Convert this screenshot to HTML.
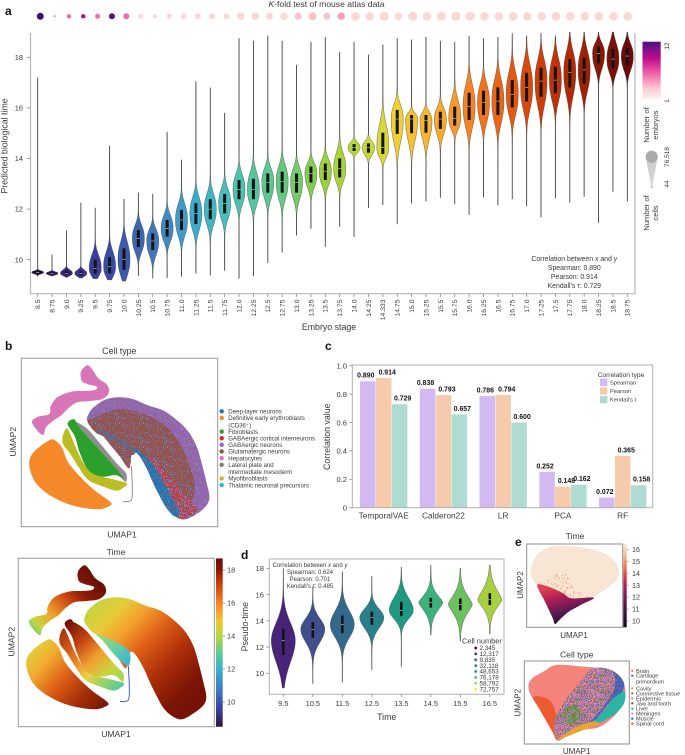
<!DOCTYPE html>
<html lang="en">
<head>
<meta charset="utf-8">
<title>K-fold test of mouse atlas data</title>
<style>
html,body{margin:0;padding:0;background:#fff;overflow:hidden}
svg{display:block}
text{font-family:"Liberation Sans",sans-serif;fill:#3a3a3a}
.pl{font-weight:700;font-size:12px;fill:#111}
.mid{text-anchor:middle}
</style>
</head>
<body>
<svg id="fig" xmlns="http://www.w3.org/2000/svg" width="685" height="755" viewBox="0 0 685 755">
<defs id="defs">
<linearGradient id="embryoGrad" x1="0" y1="0" x2="0" y2="1">
<stop offset="0" stop-color="#4a1486"/><stop offset=".12" stop-color="#7a0f88"/><stop offset=".3" stop-color="#c40c8c"/><stop offset=".55" stop-color="#f060a8"/><stop offset=".8" stop-color="#fcc6d0"/><stop offset="1" stop-color="#fff2f2"/>
</linearGradient>
<linearGradient id="rocketGrad" x1="0" y1="0" x2="0" y2="1">
<stop offset="0" stop-color="#f8e8d8"/><stop offset=".14" stop-color="#f6b896"/><stop offset=".3" stop-color="#ee6a48"/><stop offset=".44" stop-color="#cc2450"/><stop offset=".58" stop-color="#8e1a5c"/><stop offset=".72" stop-color="#55194f"/><stop offset=".86" stop-color="#2c1436"/><stop offset="1" stop-color="#120c1e"/>
</linearGradient>
<linearGradient id="sizeGrad" x1="0" y1="0" x2="0" y2="1">
<stop offset="0" stop-color="#c4c4c4"/><stop offset="1" stop-color="#dcdcdc"/>
</linearGradient>
</defs>

<!-- Panel letters -->
<text class="pl" x="5" y="15">a</text>
<text class="pl" x="5" y="350">b</text>
<text class="pl" x="325" y="350">c</text>
<text class="pl" x="241" y="559">d</text>
<text class="pl" x="515" y="546">e</text>

<!-- Panel a static -->
<text class="mid" x="326.5" y="7" font-size="8.6"><tspan font-style="italic">K</tspan>-fold test of mouse atlas data</text>
<g id="a-dots"></g>
<g id="a-violins"></g>
<path d="M30.5 33V293.7H635V33" fill="none" stroke="#b8b8b8" stroke-width="1.2"/>
<g id="a-axes"></g>
<text class="mid" transform="translate(7.5,146) rotate(-90)" font-size="8.8">Predicted biological time</text>
<text class="mid" x="329" y="330" font-size="8.8">Embryo stage</text>
<g font-size="6.9" class="mid">
<text class="mid" x="574.3" y="261">Correlation between <tspan font-style="italic">x</tspan> and <tspan font-style="italic">y</tspan></text>
<text class="mid" x="574.3" y="270">Spearman: 0.890</text>
<text class="mid" x="574.3" y="279">Pearson: 0.914</text>
<text class="mid" x="574.3" y="288">Kendall's τ: 0.729</text>
</g>
<rect x="642.5" y="41.7" width="18.2" height="57.3" fill="url(#embryoGrad)"/>
<text class="mid" transform="translate(669,46) rotate(-90)" font-size="6.5">12</text>
<text class="mid" transform="translate(669,101) rotate(-90)" font-size="6.5">1</text>
<text class="mid" transform="translate(649,125) rotate(-90)" font-size="7.6">Number of</text>
<text class="mid" transform="translate(658,125) rotate(-90)" font-size="7.6">embryos</text>
<path d="M645.7 156.7A6 6 0 0 1 657.7 156.7L652.3 186.5H651.1Z" fill="url(#sizeGrad)"/>
<circle cx="651.7" cy="156.7" r="6" fill="#a9a9a9"/>
<circle cx="651.7" cy="187" r="1" fill="#a9a9a9"/>
<text class="mid" transform="translate(669,157) rotate(-90)" font-size="6.5">76,518</text>
<text class="mid" transform="translate(669,184) rotate(-90)" font-size="6.5">44</text>
<text class="mid" transform="translate(649,213) rotate(-90)" font-size="7.6">Number of</text>
<text class="mid" transform="translate(658,213) rotate(-90)" font-size="7.6">cells</text>

<!-- Panel b static -->
<text class="mid" x="119.3" y="354" font-size="8.8">Cell type</text>
<g id="b-type"></g>
<rect x="21.3" y="358.3" width="196.4" height="168.4" fill="none" stroke="#999" stroke-width="1"/>
<text class="mid" transform="translate(16,441.7) rotate(-90)" font-size="8.6">UMAP2</text>
<text class="mid" x="122" y="537.5" font-size="8.6">UMAP1</text>
<g id="b-legend"></g>
<text class="mid" x="116" y="555" font-size="8.6">Time</text>
<g id="b-time"></g>
<rect x="18.3" y="558.3" width="196" height="168.4" fill="none" stroke="#999" stroke-width="1"/>
<text class="mid" transform="translate(14.5,641.7) rotate(-90)" font-size="8.6">UMAP2</text>
<text class="mid" x="116" y="737" font-size="8.6">UMAP1</text>
<g id="b-cbar"></g>

<!-- Panel c -->
<g id="c-bars"></g>
<rect x="352.3" y="365" width="300.4" height="142.7" fill="none" stroke="#b0b0b0" stroke-width="1"/>
<g id="c-axes"></g>
<text class="mid" transform="translate(330,436.7) rotate(-90)" font-size="8.8">Correlation value</text>
<text x="597.7" y="377" font-size="6.6">Correlation type</text>
<g id="c-legend"></g>

<!-- Panel d -->
<g id="d-violins"></g>
<rect x="269.3" y="559" width="234.7" height="135.3" fill="none" stroke="#b0b0b0" stroke-width="1"/>
<g id="d-axes"></g>
<text class="mid" transform="translate(248,626.7) rotate(-90)" font-size="8.8">Pseudo-time</text>
<text class="mid" x="386.7" y="720" font-size="8.8">Time</text>
<g font-size="6">
<text class="mid" x="310" y="567">Correlation between <tspan font-style="italic">x</tspan> and <tspan font-style="italic">y</tspan></text>
<text class="mid" x="310" y="574">Spearman: 0.624</text>
<text class="mid" x="310" y="581">Pearson: 0.701</text>
<text class="mid" x="310" y="588">Kendall's τ: 0.485</text>
</g>
<text x="462" y="643.5" font-size="7.4">Cell number</text>
<g id="d-legend"></g>

<!-- Panel e -->
<text class="mid" x="575" y="539" font-size="8.6">Time</text>
<g id="e-time"></g>
<rect x="526.7" y="544" width="96" height="83.3" fill="none" stroke="#8f8f8f" stroke-width="1"/>
<rect x="623.3" y="544" width="3.4" height="83.3" fill="url(#rocketGrad)"/>
<g id="e-cbar"></g>
<text class="mid" transform="translate(523,585) rotate(-90)" font-size="8">UMAP2</text>
<text class="mid" x="574" y="638" font-size="8">UMAP1</text>
<text class="mid" x="576.7" y="657.5" font-size="8.6">Cell type</text>
<g id="e-type"></g>
<rect x="524.3" y="661" width="105" height="83" fill="none" stroke="#8f8f8f" stroke-width="1"/>
<text class="mid" transform="translate(520.5,702.7) rotate(-90)" font-size="8">UMAP2</text>
<text class="mid" x="576.7" y="754" font-size="8">UMAP1</text>
<g id="e-legend"></g>
</svg>

<script>
/* ---------- Panel a data ---------- */
const stageLabels = ["8.5","8.75","9.0","9.25","9.5","9.75","10.0","10.25","10.5","10.75","11.0","11.25","11.5","11.75","12.0","12.25","12.5","12.75","13.0","13.25","13.5","13.75","14.0","14.25","14.333","14.75","15.0","15.25","15.5","15.75","16.0","16.25","16.5","16.75","17.0","17.25","17.5","17.75","18.0","18.25","18.5","18.75"];
const stageMedian = [9.5,9.46,9.46,9.46,9.66,9.72,10.0,10.84,10.74,11.24,11.57,11.83,12.0,12.23,12.78,12.78,13.06,13.08,13.06,13.41,13.5,13.6,14.43,14.43,14.44,15.56,15.56,15.5,15.56,15.59,16.05,16.22,16.27,16.54,16.81,17.06,17.1,17.41,17.5,18.16,17.93,18.05];
const stageQ1 = [9.46,9.42,9.4,9.38,9.45,9.46,9.6,10.5,10.38,10.91,11.17,11.41,11.6,11.83,12.39,12.39,12.65,12.65,12.65,13.05,13.15,13.25,14.3,14.23,14.18,14.97,15.0,15.02,15.17,15.3,15.52,15.72,15.72,16.02,16.25,16.44,16.58,16.81,16.97,17.76,17.57,17.69];
const stageQ3 = [9.54,9.5,9.55,9.55,10.0,10.1,10.45,11.17,11.04,11.57,11.97,12.23,12.39,12.6,13.15,13.2,13.41,13.48,13.41,13.68,13.8,14.0,14.57,14.6,15.02,15.92,15.72,15.72,15.85,16.05,16.6,16.68,16.81,17.1,17.39,17.59,17.63,17.93,17.98,18.42,18.33,18.36];
const stageLow = [9.33,9.35,9.3,9.27,9.25,9.2,9.15,9.36,9.26,9.28,9.33,9.46,9.38,9.57,9.25,9.35,9.87,10.28,10.96,11.22,10.51,11.3,10.9,12.05,12.16,11.4,12.23,12.3,12.45,12.19,11.77,12.47,12.15,12.39,12.12,11.68,12.43,12.25,12.49,11.46,12.69,12.3];
const stageHigh = [17.2,10.2,11.15,12.25,12.05,14.5,12.4,12.65,12.6,15.05,13.95,17.05,16.8,15.8,18.75,18.65,18.85,18.65,17.7,18.6,18.8,18.2,18.6,18.1,18.5,18.75,18.7,18.8,18.65,18.6,18.85,18.75,18.8,18.95,18.85,18.95,18.85,19,19,19,19,19];
const embryoCounts = [12,3,4,8,4,11,4,1,1,1,1,1,1,1,1,1,1,1,2,2,2,3,1,1,1,1,1,1,1,1,1,1,1,1,1,1,1,1,1,1,1,1];
const cellCounts = [36700,800,9900,9900,14500,24300,24300,14500,9900,14500,20000,24300,24300,24300,42300,42300,36700,42300,36700,51500,36700,42300,61600,61600,72600,45300,72600,61600,72600,72600,72600,61600,61600,61600,61600,61600,61600,61600,61600,61600,61600,61600];
const stageYTicks = [10,12,14,16,18];

/* ---------- Panel b data ---------- */
const neuronOutline = [[262,240],[270,215],[290,195],[320,178],[360,172],[400,178],[440,195],[490,212],[530,240],[565,275],[590,320],[605,370],[620,430],[628,470],[620,495],[590,520],[555,538],[525,528],[500,505],[480,470],[460,430],[440,385],[420,350],[405,335],[395,345],[392,368],[385,385],[360,350],[335,320],[310,290],[290,280],[270,258]];
const neuronOuterBand = [[262,240],[270,215],[290,195],[320,178],[360,172],[400,178],[440,195],[490,212],[530,240],[565,275],[590,320],[605,370],[620,430],[628,470],[620,495],[590,520],[575,490],[585,440],[560,350],[510,270],[440,225],[360,207],[300,225]];
const neuronRedBand = [[450,350],[500,400],[540,450],[580,490],[592,518],[555,538],[525,528],[500,490],[470,420]];
const neuronBlueBand = [[400,325],[420,335],[455,370],[490,425],[520,480],[540,518],[525,530],[500,505],[480,470],[460,430],[440,385],[420,350],[405,335]];
const neuronBlueHaze = [[285,272],[345,283],[400,322],[408,335],[395,345],[370,320],[330,300]];
const hepatocyteOutline = [[243,95],[262,76],[278,90],[295,115],[322,135],[326,160],[305,178],[270,183],[232,187],[205,205],[185,225],[160,242],[138,262],[130,285],[112,272],[96,245],[115,230],[148,222],[152,200],[172,172],[215,155],[255,153],[285,150],[290,140],[262,132],[245,122]];
const erythroidOutline = [[150,300],[170,305],[187,325],[205,368],[245,415],[285,452],[332,487],[325,500],[290,508],[220,497],[160,472],[110,432],[88,378],[100,338]];
const myofibroblastOutline = [[188,290],[200,265],[214,290],[235,340],[262,385],[300,408],[340,418],[380,430],[372,442],[350,452],[310,440],[265,420],[235,380],[210,340],[190,314]];
const fibroblastOutline = [[203,252],[222,238],[238,262],[280,310],[330,365],[368,412],[345,405],[305,410],[265,390],[240,340],[225,290]];
const lateralPlateOutline = [[225,245],[260,265],[300,310],[350,370],[378,400],[378,425],[360,410],[330,368],[280,312],[240,265]];
const neckOutline = [[298,283],[340,298],[395,332],[398,372],[385,374],[350,342],[320,305]];
const progenitorTrail = [[394,378],[397,440],[394,480],[369,485]];
const legendLabelsB = [["Deep-layer neurons"],["Definitive early erythroblasts","(CD36⁺)"],["Fibroblasts"],["GABAergic cortical interneurons"],["GABAergic neurons"],["Glutamatergic neurons"],["Hepatocytes"],["Lateral plate and","intermediate mesoderm"],["Myofibroblasts"],["Thalamic neuronal precursors"]];
const timeCbarTicks = [10,12,14,16,18];

/* ---------- Panel c data ---------- */
const methods = ["TemporalVAE","Calderon22","LR","PCA","RF"];
const spearmanValues = [0.890,0.838,0.786,0.252,0.072];
const pearsonValues = [0.914,0.793,0.794,0.148,0.365];
const kendallValues = [0.729,0.657,0.600,0.162,0.158];
const correlationTypes = ["Spearman","Pearson","Kendall's τ"];
const corrTicks = [0,0.2,0.4,0.6,0.8,1.0];

/* ---------- Panel d data ---------- */
const timeLabels = ["9.5","10.5","11.5","12.5","13.5","14.5","15.5","16.5"];
const timeMedian = [12.5,13.35,13.7,14.25,14.8,15.4,15.25,15.6];
const timeQ1 = [11.4,12.7,13.05,13.7,14.35,15.0,14.8,15.2];
const timeQ3 = [13.4,13.9,14.4,14.7,15.45,15.75,15.7,16.1];
const timeLow = [8.86,9.2,9.3,10.25,10.5,12.9,12.45,13.0];
const timeHigh = [18.0,16.6,17.75,17.4,18.1,18.25,18.0,18.25];
const timeCellCounts = ["2,345","12,317","9,835","32,118","48,653","76,178","58,792","72,757"];
const pseudoTicks = [10,12,14,16,18];

/* ---------- Panel e data ---------- */
const eBlobTop = [[130,60],[170,48],[240,52],[300,65],[340,90],[356,120],[350,150],[300,190],[250,215],[210,240],[180,268],[165,282],[158,262],[130,205],[95,140],[92,120],[108,78]];
const eWedge = [[112,165],[150,172],[190,190],[215,205],[282,203],[240,226],[205,246],[178,270],[165,282],[158,264],[135,215]];
const eHaze = [[125,170],[150,140],[200,130],[225,180],[270,200],[215,206],[190,192],[150,174]];
const eBlobBottom = [[130,425],[170,405],[250,410],[330,420],[368,450],[375,500],[350,550],[300,590],[250,600],[200,620],[172,632],[155,602],[120,540],[88,485],[92,450]];
const eSpinal = [[100,500],[150,512],[172,570],[172,628],[155,600],[120,540]];
const eMixed = [[280,415],[335,422],[345,470],[320,515],[275,570],[220,595],[172,625],[165,570],[200,505],[245,450]];
const eBlue = [[330,420],[368,450],[368,482],[335,510],[290,565],[262,578],[300,520],[335,470]];
const eTeal = [[348,475],[374,485],[372,520],[345,552],[300,578],[272,582],[300,555],[335,510]];
const eGold = [[172,628],[220,596],[275,575],[295,582],[250,600],[200,620]];
const eGreen = [[190,545],[225,525],[245,560],[205,585]];
const legendLabelsE = ["Brain","Cartilage","primordium","Cavity","Connective tissue","Epidermis","Jaw and tooth","Liver","Meninges","Muscle","Spinal cord"];
const eCbarTicks = [10,11,12,13,14,15,16];

/* ---------- Helpers ---------- */
const NS = "http://www.w3.org/2000/svg";
function mk(tag, attrs, parent, text) {
  const n = document.createElementNS(NS, tag);
  for (const k in attrs) n.setAttribute(k, attrs[k]);
  if (text !== undefined) n.textContent = text;
  parent.appendChild(n);
  return n;
}
const $ = id => document.getElementById(id);

function hex2(c){return [parseInt(c.slice(1,3),16),parseInt(c.slice(3,5),16),parseInt(c.slice(5,7),16)];}
function ramp(stops,t){
  t=Math.max(0,Math.min(1,t));
  for(let i=1;i<stops.length;i++){
    if(t<=stops[i][0]){
      const a=stops[i-1],b=stops[i],f=(t-a[0])/(b[0]-a[0]),ca=hex2(a[1]),cb=hex2(b[1]);
      return "rgb("+ca.map((v,j)=>Math.round(v+(cb[j]-v)*f)).join(",")+")";
    }
  }
  return stops[stops.length-1][1];
}
const stageRamp=[[0,"#2a0a3a"],[.03,"#2f1664"],[.07,"#37308f"],[.12,"#3a4aa6"],[.17,"#3d66b2"],[.22,"#4288c0"],[.27,"#3aaed0"],[.32,"#47bfb8"],[.37,"#55c69c"],[.42,"#66c97c"],[.46,"#82cd54"],[.49,"#9fd13a"],[.54,"#b6d83a"],[.585,"#d8d83a"],[.61,"#efd02f"],[.65,"#f7b92c"],[.7,"#f8a12a"],[.73,"#f78425"],[.8,"#e85a10"],[.85,"#d03d0a"],[.9,"#b52a05"],[.95,"#8a1505"],[1,"#6e0a05"]];
const embryoRamp=[[0,"#fbd8d8"],[.14,"#fbb4c0"],[.3,"#f45aa4"],[.6,"#c40c8c"],[.85,"#6a1486"],[1,"#3f0f70"]];
const viridis=["#47237a","#3f4f8b","#33698c","#28808a","#1f9a82","#3cb27a","#6cc060","#a8cf3e"];
const viridisLegend=["#440154","#46327e","#365c8d","#277f8e","#1fa187","#4ac16d","#a0da39","#fde725"];

function violin(group,name,cx,hw,yf,lo,q1,m,q3,hi,fill,tailColor,power,boxW){
  const pxTop=yf(hi),pxBot=yf(lo),sUp=Math.max(.02,(q3-m)/.674),sDn=Math.max(.02,(m-q1)/.674);
  const right=[],left=[];
  for(let py=pxTop;py<=pxBot;py+=.4){
    const v=m+(yf(m)-py)/(yf(0)-yf(1));
    const z=Math.abs(v-m)/(v>m?sUp:sDn);
    const w=hw*Math.exp(-.5*Math.pow(z,power));
    right.push((cx+w).toFixed(2)+" "+py.toFixed(2));
    left.unshift((cx-w).toFixed(2)+" "+py.toFixed(2));
  }
  const tail=mk("line",{x1:cx,x2:cx,y1:pxTop,y2:pxBot,stroke:tailColor,"stroke-width":.9},group);
  
  
  const body=mk("path",{d:"M"+right.join("L")+"L"+left.join("L")+"Z",fill:fill,stroke:"#4a4a4a","stroke-width":.45},group);
  
  
  const box=mk("rect",{x:cx-boxW/2,width:boxW,y:yf(q3),height:Math.max(.8,yf(q1)-yf(q3)),fill:"#141414"},group);
  
  
  const med=mk("rect",{x:cx-boxW/2,width:boxW,y:yf(m)-.25,height:.5,fill:"#fff"},group);
  
  
}

function axisTick(group,name,x1,y1,x2,y2){
  const t=mk("line",{x1,y1,x2,y2,stroke:"#8a8a8a","stroke-width":.8},group);
  
  
}
function label(group,name,x,y,str,size,anchor,rot){
  const at={x,y,"font-size":size,"text-anchor":anchor||"middle"};
  if(rot) at.transform="rotate(-90 "+x+" "+y+")";
  const t=mk("text",at,group,str);
  
  
  return t;
}
function smooth(pts,fx,fy,closed){
  const p=pts.map(q=>[fx(q[0]),fy(q[1])]),n=p.length;
  const g=i=>closed?p[(i+n)%n]:p[Math.max(0,Math.min(n-1,i))];
  let d="M"+p[0][0].toFixed(2)+" "+p[0][1].toFixed(2);
  const end=closed?n:n-1;
  for(let i=0;i<end;i++){
    const a=g(i-1),b=g(i),c=g(i+1),e=g(i+2);
    d+="C"+(b[0]+(c[0]-a[0])/6).toFixed(2)+" "+(b[1]+(c[1]-a[1])/6).toFixed(2)+" "+(c[0]-(e[0]-b[0])/6).toFixed(2)+" "+(c[1]-(e[1]-b[1])/6).toFixed(2)+" "+c[0].toFixed(2)+" "+c[1].toFixed(2);
  }
  return d+(closed?"Z":"");
}
function blob(group,name,pts,fx,fy,fill,extra){
  const b=mk("path",Object.assign({d:smooth(pts,fx,fy,true),fill:fill},extra||{}),group);
  
  
  return b;
}

/* speckle textures: repeating tiles only, not data */
function speckle(id,mix,seed){
  const defs=$("defs");
  const S=24;
  const pat=mk("pattern",{id:id,width:S,height:S,patternUnits:"userSpaceOnUse"},defs);
  for(let y=0;y<S;y++)for(let x=0;x<S;x++){
    const s=Math.sin((x+1)*12.9898+(y+1)*78.233+seed)*43758.5453;
    const h=(s-Math.floor(s))*100;
    let acc=0,col=mix[0][0];
    for(const m of mix){acc+=m[1];if(h<acc){col=m[0];break;}}
    mk("rect",{x,y,width:1.02,height:1.02,fill:col},pat);
  }
}
speckle("spBrown",[["#8c564b",58],["#8a6090",22],["#b04a48",12],["#80606a",6],["#5aa8b0",2]],1);
speckle("spPurple",[["#9467bd",66],["#8c6a90",24],["#6aa0b8",5],["#a85a70",5]],2);
speckle("spRed",[["#cc3a38",46],["#8c564b",22],["#9467bd",26],["#5aa8b0",6]],3);
speckle("spBlue",[["#1f77b4",80],["#5a7ab0",12],["#c04040",8]],4);
speckle("spBlueHaze",[["#8c564b",55],["#3f78b4",35],["#8a6090",10]],5);
speckle("spEMix",[["#c47ec0",30],["#a874a8",20],["#966e50",18],["#e88c88",16],["#5a9a5a",6],["#6070b8",10]],6);
speckle("spEBlue",[["#3f62bc",80],["#8a60a8",14],["#806a50",6]],7);
speckle("spEGreen",[["#5aa852",42],["#8f6a3e",34],["#b47ab8",24]],8);
speckle("spEHaze",[["#f8e5d3",82],["#f6c0a4",14],["#f09a80",4]],9);

function lin(id,u1,v1,u2,v2,fx,fy,stops){
  const g=mk("linearGradient",{id,gradientUnits:"userSpaceOnUse",x1:fx(u1),y1:fy(v1),x2:fx(u2),y2:fy(v2)},$("defs"));
  stops.forEach(s=>mk("stop",{offset:s[0],"stop-color":s[1]},g));
}

/* ---------- Panel a ---------- */
const xA = i => 37.7 + i*(627.3-37.7)/(stageLabels.length-1);
const yA = v => 259.7 - (v-10)*25.3;
const xDot = i => 40.3 + i*(627.7-40.3)/(stageLabels.length-1);
embryoCounts.forEach((c,i)=>{
  const d=mk("circle",{cx:xDot(i),cy:16.3,r:.8+Math.sqrt(cellCounts[i]/76518)*3.9,fill:ramp(embryoRamp,(c-1)/11)},$("a-dots"));
  
  
});
stageLabels.forEach((s,i)=>{
  violin($("a-violins"),"violin-"+s,xA(i),6,yA,stageLow[i],stageQ1[i],stageMedian[i],stageQ3[i],stageHigh[i],ramp(stageRamp,i/(stageLabels.length-1)),"#555",2.5,3);
  axisTick($("a-axes"),"x-a-"+s,xA(i),293.7,xA(i),297);
  label($("a-axes"),"x-label-"+s,xA(i)+2.4,299.5,s,6.8,"end",true);
});
stageYTicks.forEach(v=>{
  axisTick($("a-axes"),"y-a-"+v,26.7,yA(v),30.5,yA(v));
  label($("a-axes"),"y-label-a-"+v,23,yA(v)+2.6,String(v),7.4,"end");
});

/* ---------- Panel b ---------- */
const xB1 = u => 21.3 + (u-64)/3, yB1 = v => 358.3 + (v-55)/3;
const xB2 = u => 18.3 + (u-64)/3, yB2 = v => 558.3 + (v-55)/3;
const gT=$("b-type");
blob(gT,"hepatocytes-region",hepatocyteOutline,xB1,yB1,"#d874b8");
blob(gT,"erythroblasts-region",erythroidOutline,xB1,yB1,"#f5892a");
blob(gT,"myofibroblasts-region",myofibroblastOutline,xB1,yB1,"#bcbd22");
blob(gT,"lateral-plate-region",lateralPlateOutline,xB1,yB1,"#8f8f8f");
blob(gT,"fibroblasts-region",fibroblastOutline,xB1,yB1,"#2ca02c");
blob(gT,"neurons-region",neuronOutline,xB1,yB1,"url(#spBrown)");
blob(gT,"gabaergic-band",neuronOuterBand,xB1,yB1,"url(#spPurple)");
blob(gT,"interneuron-band",neuronRedBand,xB1,yB1,"url(#spRed)");
blob(gT,"deep-layer-haze",neuronBlueHaze,xB1,yB1,"url(#spBlueHaze)");
blob(gT,"deep-layer-band",neuronBlueBand,xB1,yB1,"url(#spBlue)");
const trailA=mk("path",{d:smooth(progenitorTrail,xB1,yB1,false),fill:"none",stroke:"#8f8f8f","stroke-width":1},gT);



const legendColorsB=["#1f77b4","#f5892a","#2ca02c","#d62728","#9467bd","#8c564b","#d874b8","#7f7f7f","#bcbd22","#17becf"];
let ly=411.3;
legendLabelsB.forEach((lines,i)=>{
  const dot=mk("circle",{cx:221.7,cy:ly,r:2.2,fill:legendColorsB[i]},$("b-legend"));
  
  
  lines.forEach((ln,k)=>{
    label($("b-legend"),"legend-label-b-"+i+"-"+k,228.3,ly+2.2+k*7.1,ln,6.1,"start");
  });
  ly+=lines.length>1?13.6:6.65;
});

lin("tNeuron",270,210,570,500,xB2,yB2,[[0,"#c2d43e"],[.16,"#e6cc38"],[.3,"#f4a02c"],[.48,"#dd5c16"],[.7,"#a82c08"],[.9,"#7e1606"],[1,"#761205"]]);
lin("tHep",290,110,100,285,xB2,yB2,[[0,"#6b1005"],[.22,"#8c1a06"],[.4,"#cc4410"],[.65,"#f0a22e"],[.85,"#c6d63c"],[1,"#4fc8a0"]]);
lin("tEry",110,310,320,500,xB2,yB2,[[0,"#dcd23a"],[.22,"#f2ae30"],[.5,"#dc5a14"],[.78,"#a02c08"],[1,"#7a1808"]]);
lin("tFib",210,250,360,415,xB2,yB2,[[0,"#6f1005"],[.3,"#c24210"],[.6,"#f0a030"],[.85,"#cad43e"],[1,"#a6d84a"]]);
lin("tMyo",195,270,375,440,xB2,yB2,[[0,"#a82e08"],[.35,"#e87820"],[.6,"#eed040"],[.82,"#90d46a"],[1,"#50c8a0"]]);
lin("tNeck",300,285,396,372,xB2,yB2,[[0,"#a6d66c"],[.5,"#6cd0a0"],[1,"#38b4d0"]]);
lin("tTrail",394,378,369,485,xB2,yB2,[[0,"#3a9ad9"],[.5,"#3e62c8"],[1,"#30123b"]]);
const gTi=$("b-time");
blob(gTi,"time-hepatocytes",hepatocyteOutline,xB2,yB2,"url(#tHep)");
blob(gTi,"time-erythroblasts",erythroidOutline,xB2,yB2,"url(#tEry)");
blob(gTi,"time-myofibroblasts",myofibroblastOutline,xB2,yB2,"url(#tMyo)");
blob(gTi,"time-lateral-plate",lateralPlateOutline,xB2,yB2,"url(#tFib)");
blob(gTi,"time-fibroblasts",fibroblastOutline,xB2,yB2,"url(#tFib)");
blob(gTi,"time-neurons",neuronOutline,xB2,yB2,"url(#tNeuron)");
blob(gTi,"time-neuron-neck",neckOutline,xB2,yB2,"url(#tNeck)");
const trailB=mk("path",{d:smooth(progenitorTrail,xB2,yB2,false),fill:"none",stroke:"#3e62c8","stroke-width":1},gTi);



const yCb = v => 702 - (v-10)*16.5;
lin("cbarB",0,8.5,0,18.7,x=>x,yCb,[[0,"#30123b"],[.1,"#3a3f9e"],[.2,"#3d70c0"],[.34,"#38b0cf"],[.44,"#60cc90"],[.54,"#b6d83a"],[.63,"#f2c42e"],[.73,"#f78425"],[.86,"#c83a08"],[.94,"#8a1505"],[1,"#6e0a05"]]);
const cb=mk("rect",{x:216,y:yCb(18.7),width:6.7,height:yCb(8.5)-yCb(18.7),fill:"url(#cbarB)"},$("b-cbar"));


timeCbarTicks.forEach(v=>{
  axisTick($("b-cbar"),"cbar-b-"+v,222.7,yCb(v),225,yCb(v));
  label($("b-cbar"),"cbar-b-label-"+v,227,yCb(v)+2.7,String(v),7.4,"start");
});

/* ---------- Panel c ---------- */
const seriesC=[spearmanValues,pearsonValues,kendallValues];
const colorsC=["#d2b9f2","#f5cbac","#aedcd2"];
const xC = i => 383.7 + i*59.75;
const yC = v => 507.7 - v*142;
const barW = 15.9;
seriesC.forEach((vals,j)=>{
  vals.forEach((v,i)=>{
    const cx=xC(i)+(j-1)*barW;
    const r=mk("rect",{x:cx-barW/2+.2,width:barW-.4,y:yC(v),height:yC(0)-yC(v),fill:colorsC[j]},$("c-bars"));
    
    
    const t=label($("c-bars"),"bar-value-"+methods[i]+"-"+j,cx+[-2,3.5,3][j],yC(v)-3.6,v.toFixed(3),6.9);
    t.setAttribute("font-weight","700");
    t.setAttribute("style","fill:#111");
  });
});
methods.forEach((m,i)=>label($("c-axes"),"x-label-c-"+m,xC(i),518.5,m,8.3));
corrTicks.forEach(v=>{
  axisTick($("c-axes"),"y-c-"+v,349.3,yC(v),352.3,yC(v));
  label($("c-axes"),"y-label-c-"+v,347,yC(v)+2.8,v===0?"0":v.toFixed(1),7.6,"end");
});
correlationTypes.forEach((n,j)=>{
  const s=mk("rect",{x:600,y:378.6+j*8.65,width:7.4,height:7.4,fill:colorsC[j]},$("c-legend"));
  
  
  label($("c-legend"),"legend-label-c-"+j,610,384.4+j*8.65,n,5.7,"start");
});

/* ---------- Panel d ---------- */
const xD = i => 283.3 + i*29.5;
const yD = v => 673.3 - (v-10)*13.125;
timeLabels.forEach((s,i)=>{
  violin($("d-violins"),"time-violin-"+s,xD(i),12,yD,timeLow[i],timeQ1[i],timeMedian[i],timeQ3[i],timeHigh[i],viridis[i],"#777",i>4?1.5:2,2.6);
  axisTick($("d-axes"),"x-d-"+s,xD(i),694.3,xD(i),697);
  label($("d-axes"),"x-label-d-"+s,xD(i),706,s,7.4);
});
pseudoTicks.forEach(v=>{
  axisTick($("d-axes"),"y-d-"+v,266.3,yD(v),269.3,yD(v));
  label($("d-axes"),"y-label-d-"+v,264,yD(v)+2.7,String(v),7.6,"end");
});
timeCellCounts.forEach((c,i)=>{
  const d=mk("circle",{cx:475.7,cy:648+i*5.87,r:1.4,fill:viridisLegend[i]},$("d-legend"));
  
  
  label($("d-legend"),"legend-label-d-"+i,479.5,650.2+i*5.87,c,6.3,"start");
});

/* ---------- Panel e ---------- */
const xE = u => 500 + u/3, yE = v => 530 + v/3;
const gE=$("e-time");
lin("eW",150,170,180,280,xE,yE,[[0,"#e0404e"],[.35,"#b01e55"],[.7,"#5e1a54"],[1,"#1e1230"]]);
blob(gE,"e-time-blob",eBlobTop,xE,yE,"#f8e5d3");
blob(gE,"e-time-haze",eHaze,xE,yE,"url(#spEHaze)");
blob(gE,"e-time-early-wedge",eWedge,xE,yE,"url(#eW)");
eCbarTicks.forEach(v=>{
  const y=yE(273-(v-10)*35.8);
  axisTick($("e-cbar"),"cbar-e-"+v,626.7,y,628.5,y);
  label($("e-cbar"),"cbar-e-label-"+v,632,y+2.6,String(v),7.2,"start");
});
const gE2=$("e-type");
blob(gE2,"e-type-blob",eBlobBottom,xE,yE,"#f4847a");
blob(gE2,"e-spinal-cord",eSpinal,xE,yE,"#ee5a30");
blob(gE2,"e-liver",eTeal,xE,yE,"#2cb5a5");
blob(gE2,"e-muscle",eBlue,xE,yE,"url(#spEBlue)");
blob(gE2,"e-mixed-types",eMixed,xE,yE,"url(#spEMix)");
blob(gE2,"e-connective",eGreen,xE,yE,"url(#spEGreen)");
blob(gE2,"e-cavity",eGold,xE,yE,"#e8a52e");
const colorsE=["#f4847a","#9a4dc0",null,"#e8a52e","#45a84e","#b08cd0","#8f5a2e","#2cb5a5","#e08ad0","#3f62bc","#ee5a30"];
const ysE=[423,437,454,475,490,505,520,536,551,566,581];
legendLabelsE.forEach((s,i)=>{
  if(colorsE[i]){
    const d=mk("circle",{cx:632.3,cy:yE(ysE[i]),r:1.2,fill:colorsE[i]},$("e-legend"));
    
    
  }
  label($("e-legend"),"legend-label-e-"+i,636,yE(ysE[i])+2,s,5.6,"start");
});
</script>
</body>
</html>
